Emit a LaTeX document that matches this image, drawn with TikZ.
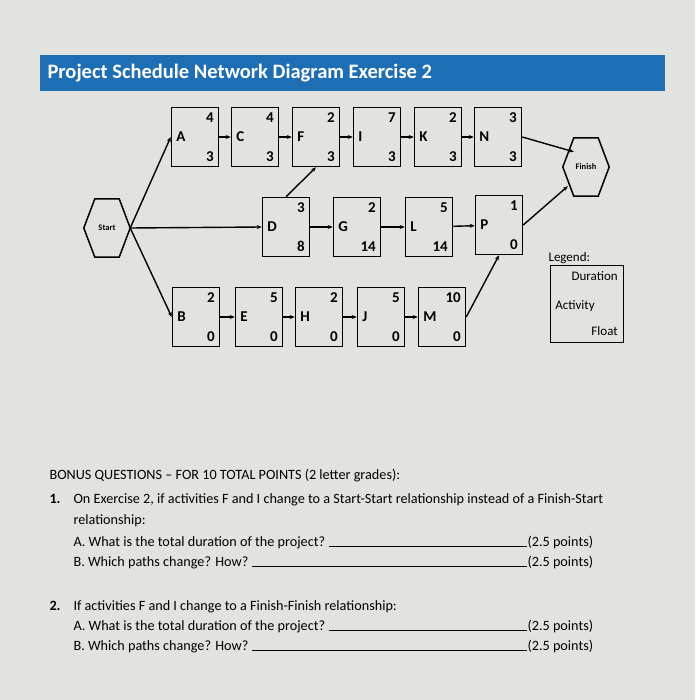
\documentclass[tikz,border=0pt]{standalone}
\usepackage{fontspec}
\setmainfont{Carlito}
\usetikzlibrary{arrows.meta}
\definecolor{paper}{RGB}{226,226,222}
\definecolor{banner}{RGB}{30,110,180}
\tikzset{
 act/.style={draw,line width=1.5pt,minimum width=47pt,minimum height=59pt,inner sep=0pt},
 hexn/.style={minimum width=46pt,minimum height=58pt,inner sep=0pt,font=\bfseries\fontsize{8.5}{9}\selectfont},
 lab/.style={font=\bfseries\fontsize{15}{16}\selectfont},
 con/.style={line width=1.4pt,-{Stealth[length=5pt,width=4pt]}},
 body/.style={anchor=base west,font=\fontsize{14.2}{16}\selectfont},
 legf/.style={font=\fontsize{13}{14}\selectfont},
}
\newcommand{\actbox}[6]{% name, x, y, letter, dur, float
 \node[act] (#1) at (#2,#3) {};
 \node[lab,anchor=west] at ([xshift=2pt]#1.west) {#4};
 \node[lab,anchor=north east] at ([xshift=-2pt,yshift=-2pt]#1.north east) {#5};
 \node[lab,anchor=south east] at ([xshift=-2pt,yshift=2pt]#1.south east) {#6};
}
\newcommand{\hexdraw}[1]{%
 \draw[line width=1.5pt] (#1.west) -- ([xshift=11pt]#1.north west) -- ([xshift=-11pt]#1.north east) -- (#1.east) -- ([xshift=-11pt]#1.south east) -- ([xshift=11pt]#1.south west) -- cycle;}
\begin{document}
\begin{tikzpicture}[x=1pt,y=-1pt]
\fill[paper] (0,0) rectangle (695,700);
\useasboundingbox (0,0) rectangle (695,700);
\fill[banner] (40,55) rectangle (665,91);
\node[anchor=west,text=white,font=\bfseries\fontsize{20.5}{24}\selectfont] (title) at (44,73) {Project Schedule Network Diagram Exercise 2};
% nodes
\node[hexn] (start) at (107,228) {Start};
\node[hexn] (finish) at (586,167) {Finish};
\hexdraw{start}\hexdraw{finish}
\actbox{A}{195}{137}{A}{4}{3}
\actbox{C}{255}{137}{C}{4}{3}
\actbox{F}{316}{137}{F}{2}{3}
\actbox{I}{377}{137}{I}{7}{3}
\actbox{K}{438}{137}{K}{2}{3}
\actbox{N}{498}{137}{N}{3}{3}
\actbox{D}{286}{227}{D}{3}{8}
\actbox{G}{357}{227}{G}{2}{14}
\actbox{L}{429}{227}{L}{5}{14}
\actbox{P}{499}{225}{P}{1}{0}
\actbox{B}{196}{317}{B}{2}{0}
\actbox{E}{259}{317}{E}{5}{0}
\actbox{H}{319}{317}{H}{2}{0}
\actbox{J}{381}{317}{J}{5}{0}
\actbox{M}{442}{317}{M}{10}{0}
% connectors
\draw[con] (start.east) -- (A.west);
\draw[con] (start.east) -- (D.west);
\draw[con] (start.east) -- (B.west);
\draw[con] (A) -- (C); \draw[con] (C) -- (F); \draw[con] (F) -- (I);
\draw[con] (I) -- (K); \draw[con] (K) -- (N);
\draw[con] (D.north) -- (F.south);
\draw[con] (D) -- (G); \draw[con] (G) -- (L); \draw[con] (L) -- (P);
\draw[con] (B) -- (E); \draw[con] (E) -- (H); \draw[con] (H) -- (J); \draw[con] (J) -- (M);
\draw[con] (M.east) -- (P.south);
\draw[con] (N.east) -- ([xshift=11pt,yshift=-14pt]finish.north west);
\draw[con] (P.east) -- ([xshift=5pt,yshift=10pt]finish.south west);
% legend
\node[anchor=west,legf] (legt) at (545,258) {Legend:};
\node[draw,line width=1.5pt,minimum width=73pt,minimum height=77pt] (leg) at (587,304) {};
\node[anchor=north east,legf] (ld) at ([xshift=-3pt,yshift=-3pt]leg.north east) {Duration};
\node[anchor=west,legf] (la) at ([xshift=2pt,yshift=-2pt]leg.west) {Activity};
\node[anchor=south east,legf] (lf) at ([xshift=-3pt,yshift=4pt]leg.south east) {Float};
% questions
\node[body] (q0) at (46,479) {BONUS QUESTIONS -- FOR 10 TOTAL POINTS (2 letter grades):};
\node[body] (q1n) at (46,503) {\textbf{1.}};
\node[body] (q1) at (70,503) {On Exercise 2, if activities F and I change to a Start-Start relationship instead of a Finish-Start};
\node[body] (q1b) at (70,524) {relationship:};
\node[body] (q1a) at (70,546) {A. What is the total duration of the project?};
\draw[line width=0.6pt] (q1a.base east) -- (527,546);
\node[body] (q1ap) at (524,546) {(2.5 points)};
\node[body] (q1c) at (70,566) {B. Which paths change? How?};
\draw[line width=0.6pt] (q1c.base east) -- (527,566);
\node[body] (q1cp) at (524,566) {(2.5 points)};
\node[body] (q2n) at (46,610) {\textbf{2.}};
\node[body] (q2) at (70,610) {If activities F and I change to a Finish-Finish relationship:};
\node[body] (q2a) at (70,630) {A. What is the total duration of the project?};
\draw[line width=0.6pt] (q2a.base east) -- (527,630);
\node[body] (q2ap) at (524,630) {(2.5 points)};
\node[body] (q2c) at (70,650) {B. Which paths change? How?};
\draw[line width=0.6pt] (q2c.base east) -- (527,650);
\node[body] (q2cp) at (524,650) {(2.5 points)};
\end{tikzpicture}
\end{document}
